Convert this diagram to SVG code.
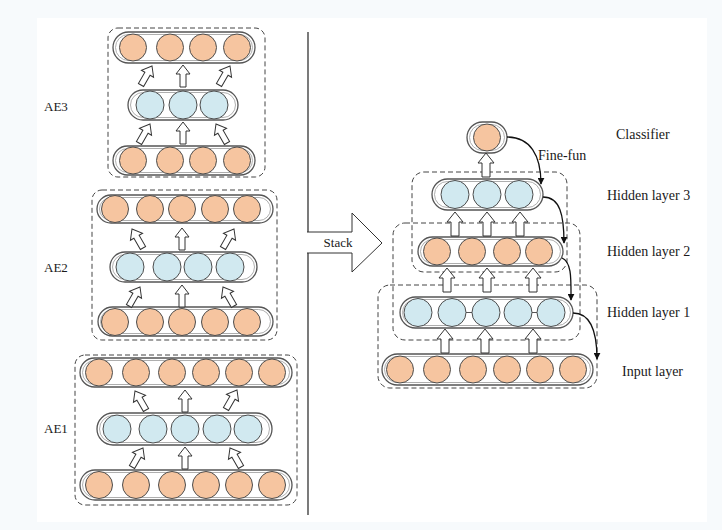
<svg xmlns="http://www.w3.org/2000/svg" xmlns:xlink="http://www.w3.org/1999/xlink" width="722" height="530" viewBox="0 0 722 530">
<style>
.bg{fill:#f7fafc}
.pill{fill:#fff;stroke:#555;stroke-width:1.3}
.pin{fill:none;stroke:#999;stroke-width:0.8}
.o{fill:#f6c5a0;stroke:#4d4d4d;stroke-width:1}
.b{fill:#d1e9f0;stroke:#4d4d4d;stroke-width:1}
.dash{fill:none;stroke:#444;stroke-width:1;stroke-dasharray:5,3}
.blk{fill:#fff;stroke:#333;stroke-width:1}
.t{font-family:"Liberation Serif","Times New Roman",serif;font-size:14px;fill:#1a1a1a}
.ts{font-family:"Liberation Serif","Times New Roman",serif;font-size:13px;fill:#1a1a1a}
.cv{fill:none;stroke:#111;stroke-width:1.3}
.ln{stroke:#555;stroke-width:1}
</style>
<defs>
<path id="ua" d="M0,0 L7,9 L3,9 L3,22 L-3,22 L-3,9 L-7,9 Z" class="blk"/>
<path id="ub" d="M0,0 L8,10 L4,10 L4,24 L-4,24 L-4,10 L-8,10 Z" class="blk"/>
<marker id="ah" viewBox="0 0 10 10" refX="9" refY="5" markerWidth="7" markerHeight="7" orient="auto" markerUnits="userSpaceOnUse">
<path d="M0,0 L10,5 L0,10 Z" fill="#111"/>
</marker>
</defs>
<rect class="bg" x="0" y="0" width="722" height="530"/>
<rect x="37" y="18" width="670" height="504" fill="#fff"/>

<line x1="308" y1="32" x2="308" y2="515" stroke="#333" stroke-width="1.3"/>

<!-- AE3 -->
<g id="ae3">
<rect class="dash" x="108" y="28" width="157" height="149" rx="10"/>
<rect class="pill" x="113" y="32" width="142" height="31" rx="15.5"/>
<rect class="pin" x="115.5" y="34.5" width="137" height="26" rx="13"/>
<circle class="o" cx="133" cy="47.5" r="13.5"/><circle class="o" cx="170" cy="47.5" r="13.5"/><circle class="o" cx="203" cy="47.5" r="13.5"/><circle class="o" cx="237" cy="47.5" r="13.5"/>
<rect class="pill" x="128" y="90" width="110" height="30" rx="15"/>
<rect class="pin" x="130.5" y="92.5" width="105" height="25" rx="12.5"/>
<circle class="b" cx="150" cy="105" r="14"/><circle class="b" cx="183" cy="105" r="14"/><circle class="b" cx="214" cy="105" r="14"/>
<rect class="pill" x="113" y="146" width="142" height="29" rx="14.5"/>
<rect class="pin" x="115.5" y="148.5" width="137" height="24" rx="12"/>
<circle class="o" cx="133" cy="160.5" r="13.5"/><circle class="o" cx="170" cy="160.5" r="13.5"/><circle class="o" cx="203" cy="160.5" r="13.5"/><circle class="o" cx="237" cy="160.5" r="13.5"/>
<use xlink:href="#ua" transform="translate(152,66) rotate(30)"/>
<use xlink:href="#ua" transform="translate(183,65)"/>
<use xlink:href="#ua" transform="translate(230,66) rotate(30)"/>
<use xlink:href="#ua" transform="translate(150,124) rotate(30)"/>
<use xlink:href="#ua" transform="translate(183,122)"/>
<use xlink:href="#ua" transform="translate(216,124) rotate(-30)"/>
<text class="ts" x="44" y="111">AE3</text>
</g>

<!-- AE2 -->
<g id="ae2">
<rect class="dash" x="92" y="190" width="185" height="150" rx="10"/>
<rect class="pill" x="97" y="195" width="176" height="28" rx="14"/>
<rect class="pin" x="99.5" y="197.5" width="171" height="23" rx="11.5"/>
<circle class="o" cx="115" cy="209" r="13.5"/><circle class="o" cx="150" cy="209" r="13.5"/><circle class="o" cx="182" cy="209" r="13.5"/><circle class="o" cx="215" cy="209" r="13.5"/><circle class="o" cx="247" cy="209" r="13.5"/>
<rect class="pill" x="110" y="252" width="147" height="30" rx="15"/>
<rect class="pin" x="112.5" y="254.5" width="142" height="25" rx="12.5"/>
<circle class="b" cx="130" cy="267" r="14"/><circle class="b" cx="167" cy="267" r="14"/><circle class="b" cx="198" cy="267" r="14"/><circle class="b" cx="230" cy="267" r="14"/>
<rect class="pill" x="98" y="307" width="175" height="29" rx="14.5"/>
<rect class="pin" x="100.5" y="309.5" width="170" height="24" rx="12"/>
<circle class="o" cx="115" cy="322" r="13.5"/><circle class="o" cx="150" cy="322" r="13.5"/><circle class="o" cx="182" cy="322" r="13.5"/><circle class="o" cx="215" cy="322" r="13.5"/><circle class="o" cx="247" cy="322" r="13.5"/>
<use xlink:href="#ua" transform="translate(132,229) rotate(-30)"/>
<use xlink:href="#ua" transform="translate(182,228)"/>
<use xlink:href="#ua" transform="translate(234,229) rotate(30)"/>
<use xlink:href="#ua" transform="translate(140,287) rotate(30)"/>
<use xlink:href="#ua" transform="translate(182,285)"/>
<use xlink:href="#ua" transform="translate(223,287) rotate(-30)"/>
<text class="ts" x="44" y="272">AE2</text>
</g>

<!-- AE1 -->
<g id="ae1">
<rect class="dash" x="75" y="355" width="222" height="150" rx="10"/>
<rect class="pill" x="80" y="358" width="212" height="29" rx="14.5"/>
<rect class="pin" x="82.5" y="360.5" width="207" height="24" rx="12"/>
<circle class="o" cx="99" cy="372.5" r="13.5"/><circle class="o" cx="136" cy="372.5" r="13.5"/><circle class="o" cx="172" cy="372.5" r="13.5"/><circle class="o" cx="206" cy="372.5" r="13.5"/><circle class="o" cx="239" cy="372.5" r="13.5"/><circle class="o" cx="272" cy="372.5" r="13.5"/>
<rect class="pill" x="97" y="413" width="175" height="32" rx="16"/>
<rect class="pin" x="99.5" y="415.5" width="170" height="27" rx="13.5"/>
<circle class="b" cx="117" cy="429" r="14"/><circle class="b" cx="153" cy="429" r="14"/><circle class="b" cx="185" cy="429" r="14"/><circle class="b" cx="217" cy="429" r="14"/><circle class="b" cx="248" cy="429" r="14"/>
<rect class="pill" x="80" y="470" width="212" height="30" rx="15"/>
<rect class="pin" x="82.5" y="472.5" width="207" height="25" rx="12.5"/>
<circle class="o" cx="99" cy="485" r="13.5"/><circle class="o" cx="136" cy="485" r="13.5"/><circle class="o" cx="172" cy="485" r="13.5"/><circle class="o" cx="206" cy="485" r="13.5"/><circle class="o" cx="239" cy="485" r="13.5"/><circle class="o" cx="272" cy="485" r="13.5"/>
<use xlink:href="#ua" transform="translate(135,391) rotate(-30)"/>
<use xlink:href="#ua" transform="translate(185,390)"/>
<use xlink:href="#ua" transform="translate(237,390) rotate(30)"/>
<use xlink:href="#ua" transform="translate(143,448) rotate(30)"/>
<use xlink:href="#ua" transform="translate(185,447)"/>
<use xlink:href="#ua" transform="translate(230,448) rotate(-30)"/>
<text class="ts" x="44" y="433">AE1</text>
</g>

<!-- Stack arrow -->
<g id="stack">
<path d="M307,232 L352,232 L352,213 L382,243 L352,272 L352,253 L307,253" fill="#fff" stroke="#333" stroke-width="1"/>
<text class="ts" x="338" y="247" text-anchor="middle">Stack</text>
</g>

<!-- Right stacked network -->
<g id="h1box"><rect class="dash" x="378" y="285" width="219" height="103" rx="12"/></g>
<g id="h2box"><rect class="dash" x="393" y="223" width="187" height="117" rx="12"/></g>
<g id="h3box"><rect class="dash" x="412" y="172" width="155" height="100" rx="12"/></g>

<g id="classifier">
<rect class="pill" x="467" y="122" width="40" height="31" rx="15.5"/>
<rect class="pin" x="469.5" y="124.5" width="35" height="26" rx="13"/>
<circle class="o" cx="487" cy="137.5" r="13.5"/>
<text class="t" x="616" y="139">Classifier</text>
</g>
<g id="hidden3">
<rect class="pill" x="432" y="179" width="111" height="31" rx="15.5"/>
<rect class="pin" x="434.5" y="181.5" width="106" height="26" rx="13"/>
<circle class="b" cx="455" cy="194.5" r="14"/><circle class="b" cx="487" cy="194.5" r="14"/><circle class="b" cx="519" cy="194.5" r="14"/>
<text class="t" x="607" y="200">Hidden layer 3</text>
</g>
<g id="hidden2">
<rect class="pill" x="418" y="237" width="145" height="29" rx="14.5"/>
<rect class="pin" x="420.5" y="239.5" width="140" height="24" rx="12"/>
<circle class="o" cx="437" cy="251.5" r="13.5"/><circle class="o" cx="472" cy="251.5" r="13.5"/><circle class="o" cx="507" cy="251.5" r="13.5"/><circle class="o" cx="539" cy="251.5" r="13.5"/>
<text class="t" x="607" y="256">Hidden layer 2</text>
</g>
<g id="hidden1">
<rect class="pill" x="400" y="297" width="173" height="31" rx="15.5"/>
<rect class="pin" x="402.5" y="299.5" width="168" height="26" rx="13"/>
<line class="ln" x1="466" y1="312.5" x2="472" y2="312.5"/>
<line class="ln" x1="531" y1="312.5" x2="537" y2="312.5"/>
<circle class="b" cx="418" cy="312.5" r="14"/><circle class="b" cx="452" cy="312.5" r="14"/><circle class="b" cx="486" cy="312.5" r="14"/><circle class="b" cx="518" cy="312.5" r="14"/><circle class="b" cx="551" cy="312.5" r="14"/>
<text class="t" x="607" y="317">Hidden layer 1</text>
</g>
<g id="input">
<rect class="pill" x="382" y="354" width="211" height="31" rx="15.5"/>
<rect class="pin" x="384.5" y="356.5" width="206" height="26" rx="13"/>
<circle class="o" cx="400" cy="369.5" r="13.5"/><circle class="o" cx="437" cy="369.5" r="13.5"/><circle class="o" cx="473" cy="369.5" r="13.5"/><circle class="o" cx="507" cy="369.5" r="13.5"/><circle class="o" cx="540" cy="369.5" r="13.5"/><circle class="o" cx="573" cy="369.5" r="13.5"/>
<text class="t" x="622" y="376">Input layer</text>
</g>

<g id="connectors">
<use xlink:href="#ub" transform="translate(486,153)"/>
<use xlink:href="#ub" transform="translate(455,212)"/>
<use xlink:href="#ub" transform="translate(487,212)"/>
<use xlink:href="#ub" transform="translate(520,212)"/>
<use xlink:href="#ub" transform="translate(447,268)"/>
<use xlink:href="#ub" transform="translate(487,268)"/>
<use xlink:href="#ub" transform="translate(533,268)"/>
<use xlink:href="#ub" transform="translate(445,329)"/>
<use xlink:href="#ub" transform="translate(485,329)"/>
<use xlink:href="#ub" transform="translate(533,329)"/>
<path class="cv" d="M507,137 C530,137 541,155 541,184" marker-end="url(#ah)"/>
<path class="cv" d="M543,197 C560,197 564,215 564,243" marker-end="url(#ah)"/>
<path class="cv" d="M562,258 C572,262 571,280 571,300" marker-end="url(#ah)"/>
<path class="cv" d="M573,313 C592,313 597,335 597,359" marker-end="url(#ah)"/>
<text class="t" x="538" y="160">Fine-fun</text>
</g>
</svg>
